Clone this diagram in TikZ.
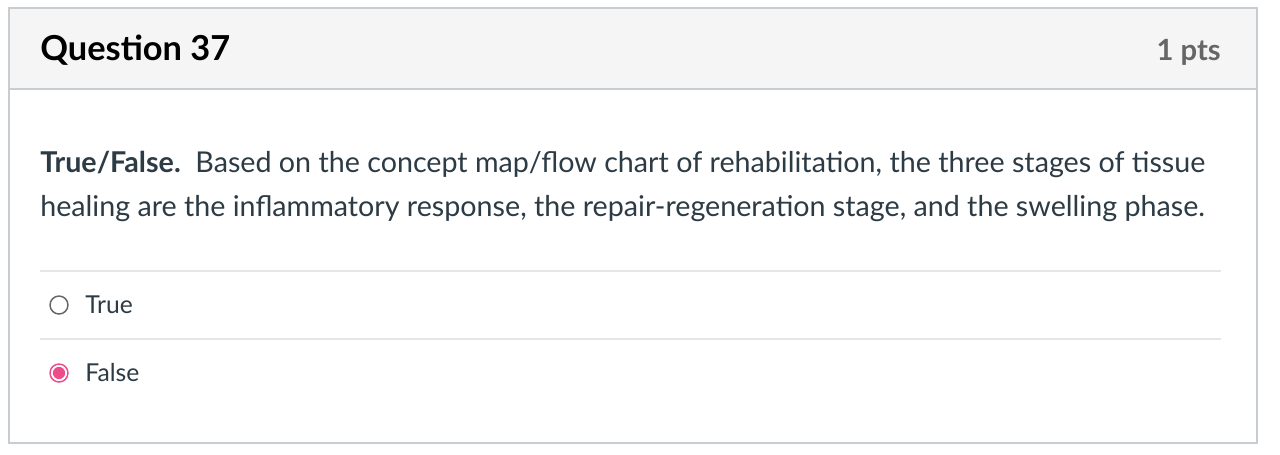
\documentclass[tikz,border=0pt]{standalone}
\usepackage{fontspec}
\setmainfont{Lato}
\usetikzlibrary{positioning}
\definecolor{headgray}{HTML}{F5F5F5}
\definecolor{linegray}{HTML}{C7CDD1}
\definecolor{sepgray}{HTML}{E4E6E8}
\definecolor{radiopink}{HTML}{EC4C89}
\definecolor{textdark}{HTML}{2D3B45}
\tikzset{
  radio/.style={circle,draw=gray!80!black,line width=1.1pt,minimum size=13.5pt,inner sep=0pt},
  answer/.style={anchor=west,font=\fontsize{18.5}{22}\selectfont,text=textdark,inner sep=0pt}
}
\begin{document}
\begin{tikzpicture}[x=0.75pt,y=-0.75pt]
    % Frame
    \useasboundingbox[fill=white] (0,0) rectangle (1280,454);
    \fill[headgray] (9,8) rectangle (1257,89);
    \draw[linegray,line width=0.8pt] (9,8) rectangle (1257,443);
    \draw[linegray,line width=0.8pt] (9,89) -- (1257,89);

    % Header
    \node[anchor=base west,inner sep=0pt,font=\fontsize{25.8}{30}\selectfont\bfseries] (title) at (40,60) {Question 37};
    \node[anchor=base east,inner sep=0pt,text=gray!80!black,font=\fontsize{21.9}{26}\selectfont\bfseries] (pts) at (1221,60) {1 pts};

    % Question text
    \node[anchor=base west,inner sep=0pt,text=textdark,font=\fontsize{21.5}{26}\selectfont] (line1) at (40,172)
      {\textbf{True/False.}\ \ Based on the concept map/flow chart of rehabilitation, the three stages of tissue};
    \node[anchor=base west,inner sep=0pt,text=textdark,font=\fontsize{21.5}{26}\selectfont] (line2) at (40,216)
      {healing are the inflammatory response, the repair-regeneration stage, and the swelling phase.};

    % Separators
    \draw[sepgray,line width=0.8pt] (40,271) -- (1221,271);
    \draw[sepgray,line width=0.8pt] (40,339) -- (1221,339);

    % Answers
    \node[radio] (rtrue) at (59,305) {};
    \node[answer] (atrue) at (85,305) {True};
    \node[radio,draw=radiopink] (rfalse) at (59,373) {};
    \fill[radiopink] (rfalse.center) circle (4.6pt);
    \node[answer] (afalse) at (85,373) {False};
\end{tikzpicture}
\end{document}
